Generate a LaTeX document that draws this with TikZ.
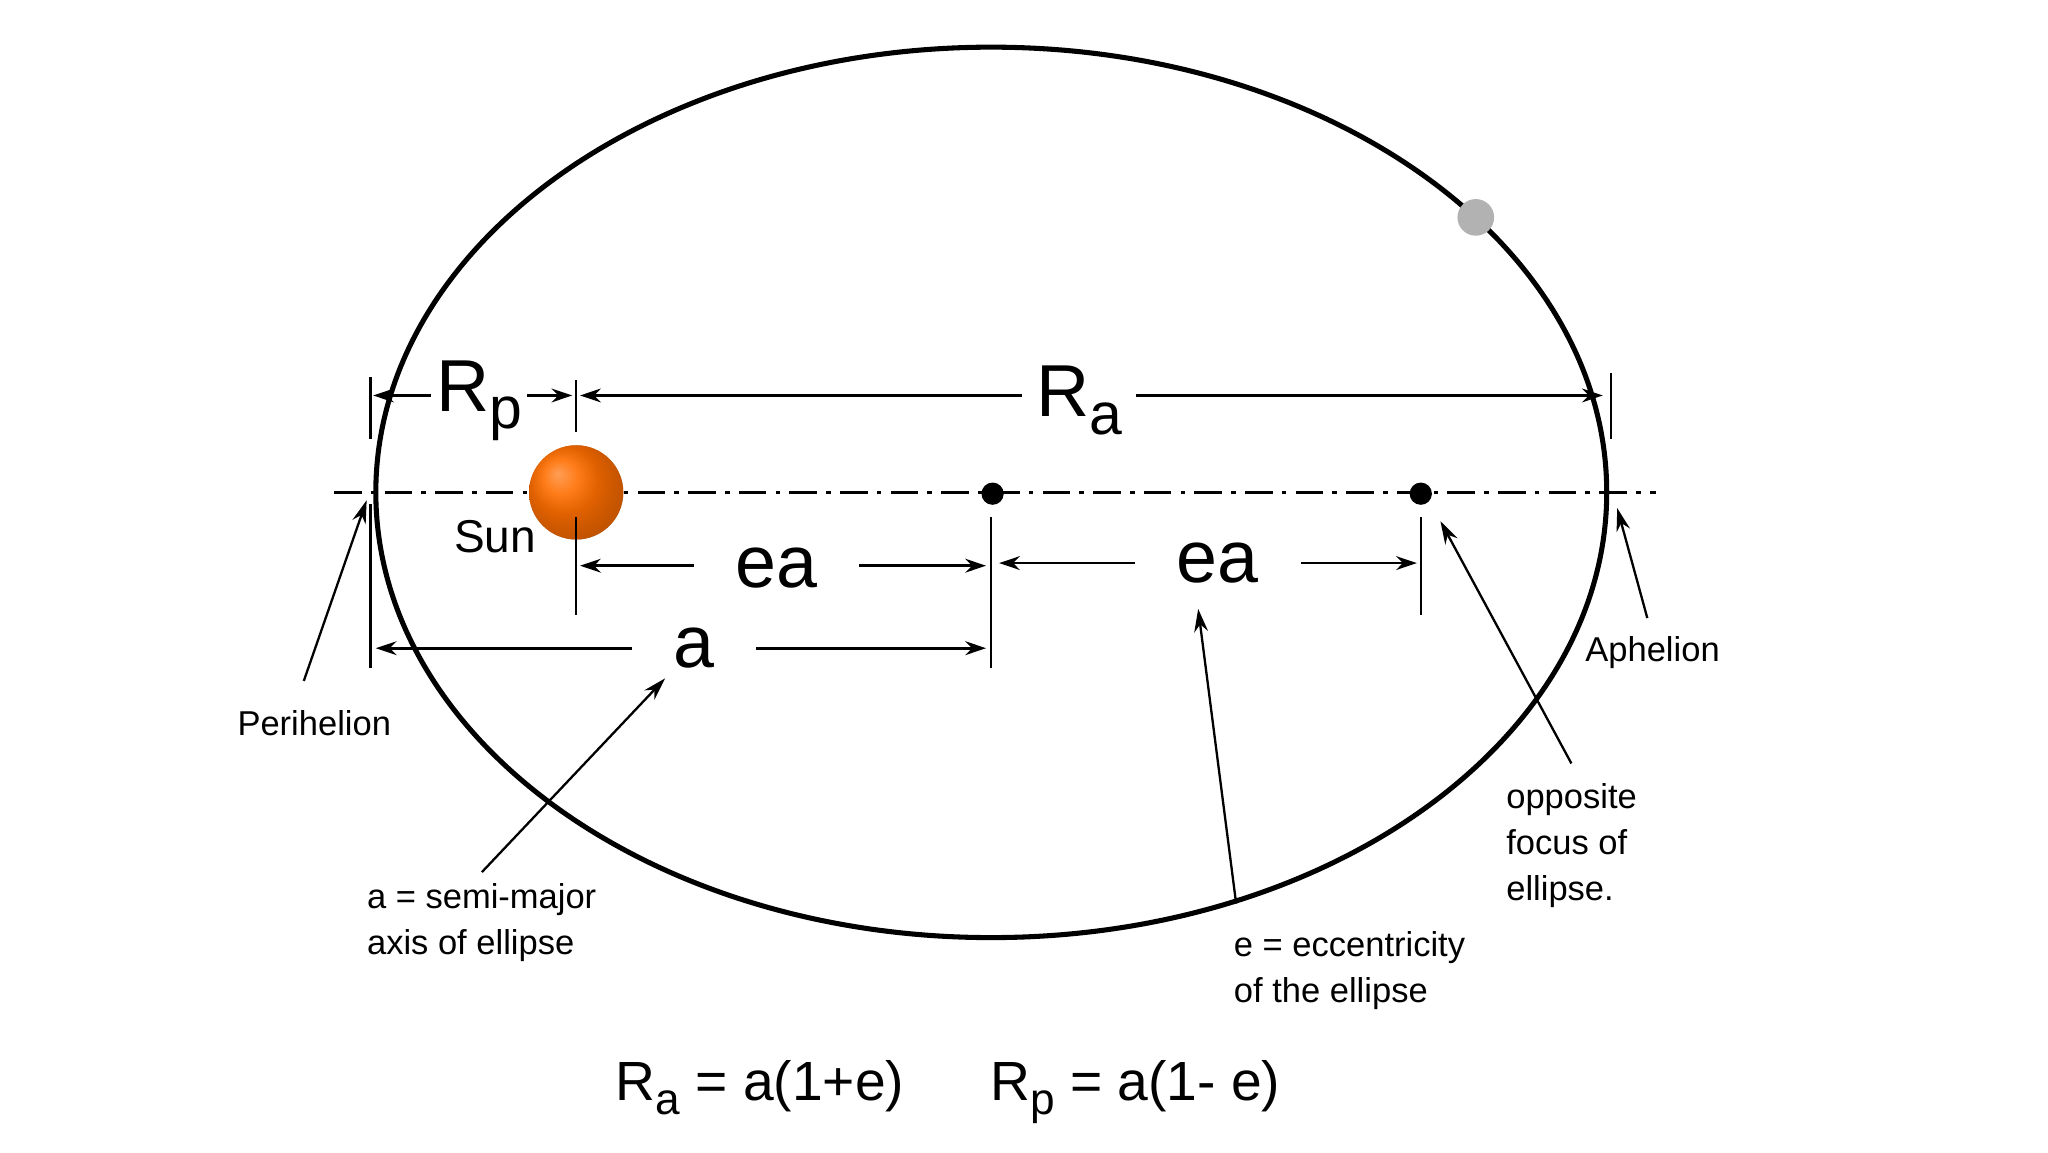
\documentclass[tikz,border=0pt]{standalone}
\usepackage{fontspec}
\setmainfont{Liberation Sans}
\usetikzlibrary{arrows.meta}
\newcommand{\lsub}[1]{\raisebox{-0.45ex}{\scalebox{0.8}{#1}}}
\begin{document}
\begin{tikzpicture}[x=0.02cm,y=-0.02cm,
  dim/.style={-{Stealth[length=9pt,width=6pt]},line width=1.2pt},
  ptr/.style={-{Stealth[length=10pt,width=6pt]},line width=1pt},
  tick/.style={line width=1pt},
  big/.style={font=\fontsize{32}{36}\selectfont,inner ysep=2pt,inner xsep=6pt},
  small/.style={font=\fontsize{15}{19}\selectfont,align=left,inner sep=0pt},
  dot/.style={circle,fill=black,inner sep=0pt,minimum size=0.34cm}]
\useasboundingbox (0,0) rectangle (1564,880);
\draw[line width=2.2pt] (757,376) ellipse [x radius=470,y radius=340];
\draw[line width=1pt,dash pattern=on 12pt off 4pt on 2pt off 4pt] (255,376) -- (1265,376);
\shade[ball color=orange!90!red] (440,376) circle (36);
\fill[orange!85!red,opacity=0.6] (440,376) circle (36);
\node[dot] (c) at (758,377) {};
\node[dot] (f) at (1085,377) {};
\node[circle,fill=gray!60,inner sep=0pt,minimum size=0.56cm] (pl) at (1127,166) {};
% ticks
\draw[tick] (283,288) -- (283,335);
\draw[tick] (283,385) -- (283,510);
\draw[tick] (440,290) -- (440,330);
\draw[tick] (440,395) -- (440,470);
\draw[tick] (1230,285) -- (1230,335);
\draw[tick] (757,395) -- (757,510);
\draw[tick] (1085,395) -- (1085,470);
% labels
\node[big,inner xsep=2pt] (rp) at (366,306) {R\lsub{p}};
\node[big] (ra) at (824,306) {R\lsub{a}};
\node[big,inner xsep=18pt] (ea1) at (593,434) {ea};
\node[big,inner xsep=18pt] (ea2) at (930,430) {ea};
\node[big,inner xsep=18pt] (la) at (530,495) {a};
\coordinate (rpl) at (285,302); \coordinate (rpr) at (437,302);
\coordinate (ral) at (443,302); \coordinate (rar) at (1224,302);
\coordinate (e1l) at (443,432); \coordinate (e1r) at (753,432);
\coordinate (e2l) at (763,430); \coordinate (e2r) at (1082,430);
\coordinate (al) at (287,495); \coordinate (ar) at (753,495);
\draw[dim] (rp.west|-rpl) -- (rpl);
\draw[dim] (rp.east|-rpr) -- (rpr);
\draw[dim] (ra.west|-ral) -- (ral);
\draw[dim] (ra.east|-rar) -- (rar);
\draw[dim] (ea1.west|-e1l) -- (e1l);
\draw[dim] (ea1.east|-e1r) -- (e1r);
\draw[dim] (ea2.west|-e2l) -- (e2l);
\draw[dim] (ea2.east|-e2r) -- (e2r);
\draw[dim] (la.west|-al) -- (al);
\draw[dim] (la.east|-ar) -- (ar);
\node[small,font=\fontsize{20}{24}\selectfont] (sun) at (378,410) {Sun};
\node[small] (peri) at (240,552) {Perihelion};
\node[small] (aph) at (1262,498) {Aphelion};
\node[small,anchor=north west] (sm) at (280,674) {a = semi-major\\[1pt]axis of ellipse};
\node[small,anchor=north west] (ecc) at (942,711) {e = eccentricity\\[1pt]of the ellipse};
\node[small,anchor=north west] (opp) at (1150,598) {opposite\\[1pt]focus of\\[1pt]ellipse.};
\coordinate (pp) at (280,382); \coordinate (ap) at (1235,388);
\coordinate (sp) at (508,518); \coordinate (ep) at (915,465); \coordinate (op) at (1100,398);
\draw[ptr] (232,520) -- (pp);
\draw[ptr] (1258,472) -- (ap);
\draw[ptr] (368,666) -- (sp);
\draw[ptr] (944,690) -- (ep);
\draw[ptr] (1200,583) -- (op);
\node[font=\fontsize{24}{30}\selectfont] (form) at (724,834) {R\lsub{a} = a(1+e)\quad\ \ R\lsub{p} = a(1- e)};
\end{tikzpicture}
\end{document}
